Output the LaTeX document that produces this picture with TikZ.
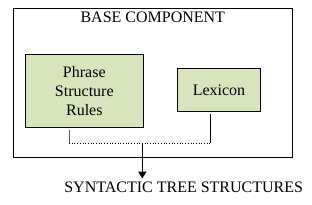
\documentclass[tikz,border=0pt]{standalone}
\usepackage{fontspec}
\setmainfont{Liberation Serif}
\usetikzlibrary{arrows.meta}
\definecolor{boxgreen}{HTML}{D8E4BC}
\begin{document}
\begin{tikzpicture}[x=1pt,y=-1pt,
  every node/.style={font=\fontsize{16}{19}\selectfont},
  greenbox/.style={draw=black,line width=0.8pt,fill=boxgreen,inner sep=0pt,align=center},
  link/.style={line width=0.7pt}]
\useasboundingbox (0,0) rectangle (312,204);
\node[draw=black,line width=0.8pt,minimum width=279pt,minimum height=149.5pt,inner sep=0pt] (base) at (153,82.75) {};
\node (basetitle) at (152.8,17.5) {BASE COMPONENT};
\node[greenbox,minimum width=118pt,minimum height=73pt] (psr) at (84.3,90.8) {Phrase\\Structure\\Rules};
\node[greenbox,minimum width=82.6pt,minimum height=43pt] (lex) at (219,89.8) {Lexicon};
\node (out) at (183.7,187.5) {SYNTACTIC TREE STRUCTURES};
\coordinate (l1) at ([yshift=-2.7pt]psr.south -| 69,0);
\coordinate (l2) at (69,143.3);
\coordinate (r1) at ([yshift=-2.7pt]lex.south -| 210.7,0);
\coordinate (r2) at (210.7,143.3);
\coordinate (m) at (142.3,143.3);
\draw[link,gray!70!black] (l1) -- (l2);
\draw[link] (r1) -- (r2);
\draw[link,dotted] (l2) -- (r2);
\draw[line width=1.6pt,-{Triangle[width=8pt,length=7pt]}] (m) -- (out.north -| m);
\end{tikzpicture}
\end{document}
